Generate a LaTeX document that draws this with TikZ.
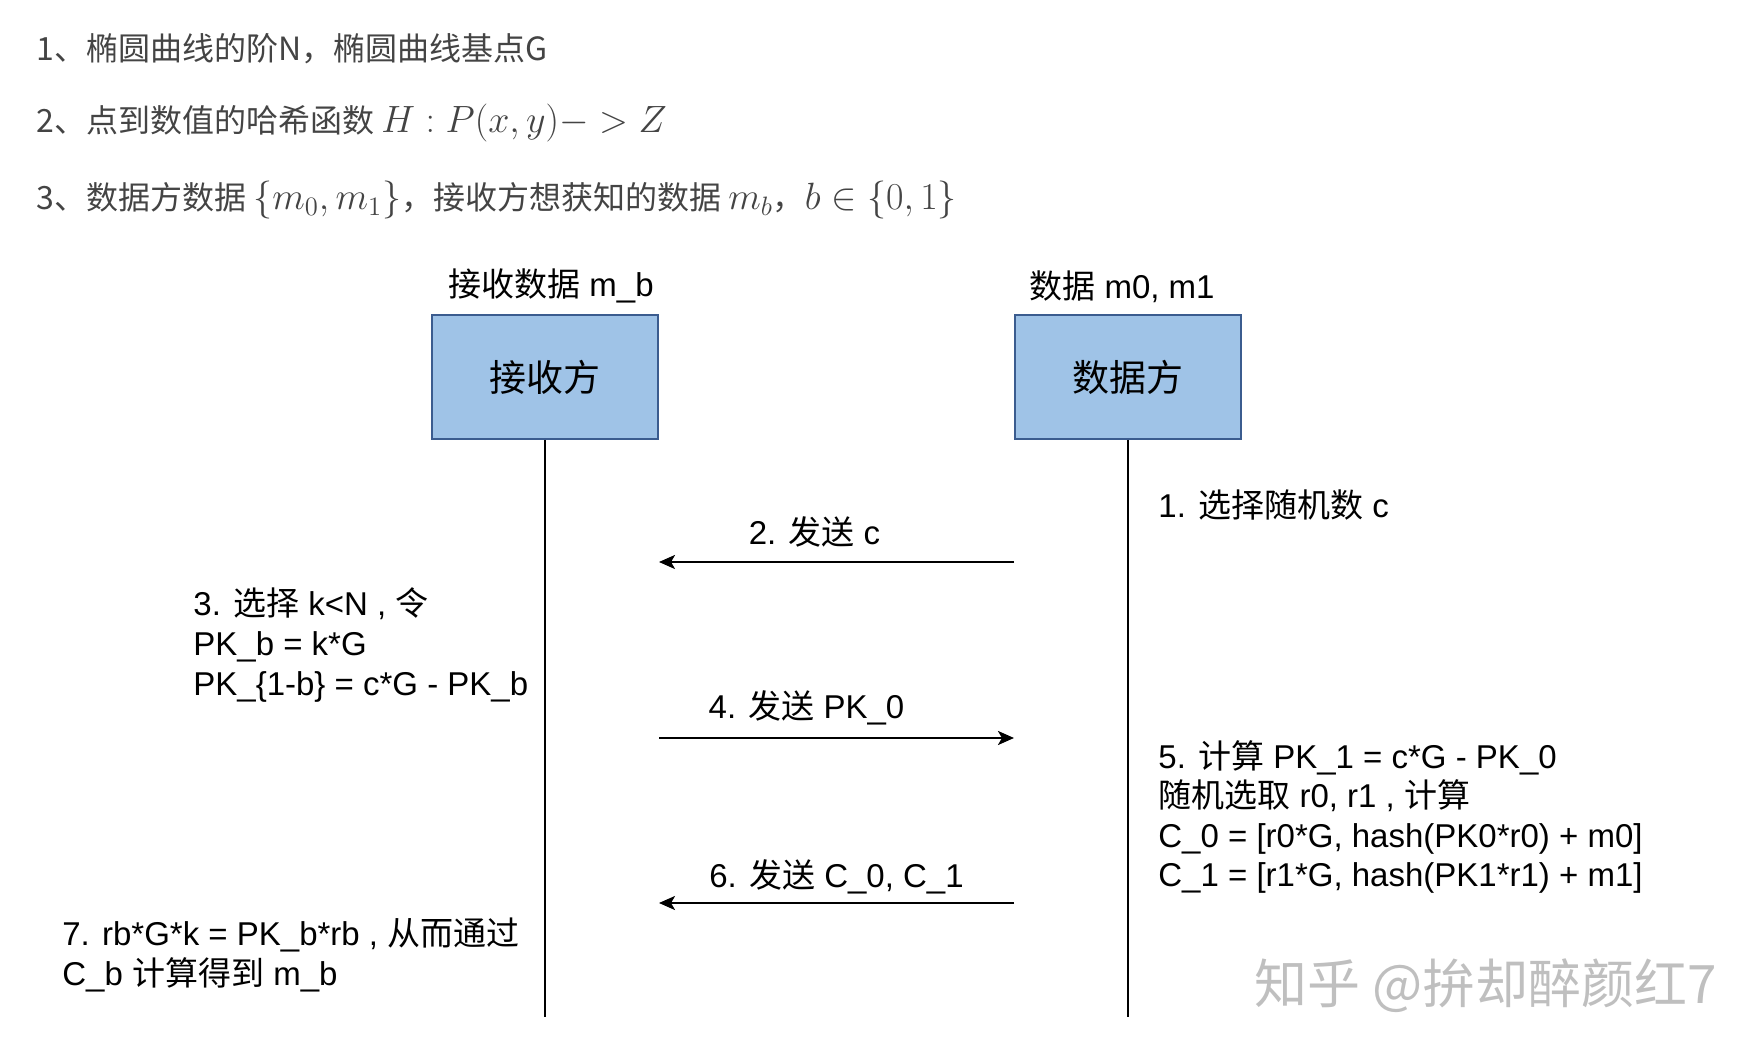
\RequirePackage{fix-cm}
\documentclass[tikz,border=0pt]{standalone}
\usepackage{fontspec}
\setmainfont{Liberation Sans}
\newfontfamily\cjk{Noto Sans CJK SC}
\newcommand{\zh}[1]{{\cjk #1}}
\newcommand{\bigmath}[1]{{\fontsize{19}{22}\selectfont$#1$}}
\usetikzlibrary{positioning}
\usetikzlibrary{arrows.meta}
\definecolor{fg}{rgb}{0,0,0}
\definecolor{boxfill}{HTML}{9FC3E7}
\definecolor{boxline}{HTML}{3B5C8F}
\definecolor{note}{HTML}{444444}
\tikzstyle{party}=[draw=boxline, line width=1pt, fill=boxfill, minimum width=113pt,
minimum height=62pt, text=fg, font=\fontsize{18.5}{22}\selectfont]
\tikzstyle{title}=[inner sep=0pt, text=fg, font=\fontsize{16.5}{20}\selectfont]
\tikzstyle{intro}=[anchor=west, inner sep=0pt, text=note, font=\cjk\fontsize{16}{20}\selectfont]
\tikzstyle{stepnote}=[anchor=west, align=left, inner sep=0pt, text=fg, font=\fontsize{16.5}{19.8}\selectfont]
\tikzstyle{lifeline}=[line width=1pt]
\tikzstyle{myarrow}=[-{Stealth[length=8pt, width=7pt, inset=2pt]}, line width=1.2pt]
\tikzstyle{msglabel}=[midway, yshift=15pt, inner sep=0pt, font=\fontsize{16.5}{20}\selectfont]

\begin{document}
\begin{tikzpicture}[x=0.5pt, y=-0.5pt]
    \useasboundingbox (0,0) rectangle (1756,1058);

    % INTRO
    \node[intro] (def1) at (36,49) {1、椭圆曲线的阶N，椭圆曲线基点G};
    \node[intro] (def2) at (36,123) {2、点到数值的哈希函数 \bigmath{H:P(x,y)->Z}};
    \node[intro] (def3) at (36,200) {3、数据方数据 \bigmath{\{m_0,m_1\}}，接收方想获知的数据 \bigmath{m_b}，\bigmath{b\in\{0,1\}}};

    % PARTIES
    \node[party] (recv) at (545,377) {\zh{接收方}};
    \node[party, right=177.5pt of recv] (send) {\zh{数据方}};
    \node[title, above=5.5pt of recv, xshift=3pt] (recvData) {\zh{接收数据} m\_b};
    \node[title, above=5.5pt of send, xshift=-3pt] (sendData) {\zh{数据} m0, m1};

    % LIFELINES
    \coordinate (bottom) at (0,1017);
    \draw[lifeline] (recv) -- (recv |- bottom);
    \draw[lifeline] (send) -- (send |- bottom);

    % STEP 1
    \node[stepnote] (s1) at (1158,505) {1. \zh{选择随机数} c};

    % STEP 2
    \coordinate (a2s) at (send.west |- 0,562);
    \coordinate (a2e) at (recv.east |- 0,562);
    \draw[myarrow] (a2s) -- node[msglabel, xshift=-11pt] {2. \zh{发送} c} (a2e);

    % STEP 3
    \node[stepnote] (s3) at (193,645) {3. \zh{选择} k<N , \zh{令}\\PK\_b = k*G\\PK\_\{1-b\} = c*G - PK\_b};

    % STEP 4
    \coordinate (a4s) at (recv.east |- 0,738);
    \coordinate (a4e) at (send.west |- 0,738);
    \draw[myarrow] (a4s) -- node[msglabel, xshift=-15pt] {4. \zh{发送} PK\_0} (a4e);

    % STEP 5
    \node[stepnote] (s5) at (1158,817) {5. \zh{计算} PK\_1 = c*G - PK\_0\\\zh{随机选取} r0, r1 , \zh{计算}\\C\_0 = [r0*G, hash(PK0*r0) + m0]\\C\_1 = [r1*G, hash(PK1*r1) + m1]};

    % STEP 6
    \coordinate (a6s) at (send.west |- 0,903);
    \coordinate (a6e) at (recv.east |- 0,903);
    \draw[myarrow] (a6s) -- node[msglabel, yshift=-2pt] {6. \zh{发送} C\_0, C\_1} (a6e);

    % STEP 7
    \node[stepnote] (s7) at (62,955) {7. rb*G*k = PK\_b*rb , \zh{从而通过}\\C\_b \zh{计算得到} m\_b};

    % WATERMARK
    \node[anchor=west, inner sep=0pt, text=black!25, font=\cjk\fontsize{26.5}{30}\selectfont] (mark) at (1254,986) {知乎 @拚却醉颜红7};

\end{tikzpicture}
\end{document}
